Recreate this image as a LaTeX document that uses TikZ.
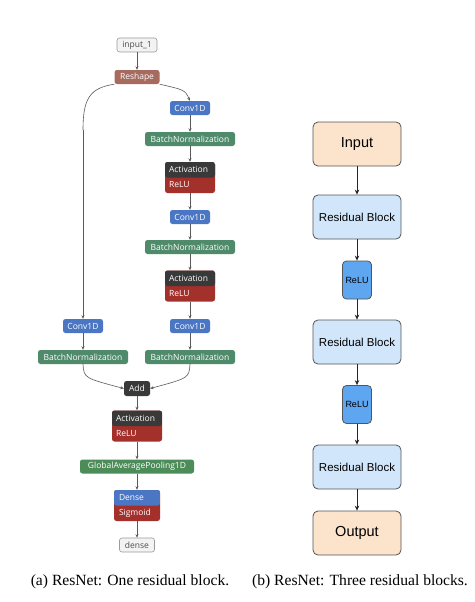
\documentclass[tikz,border=0pt]{standalone}
\usepackage{fontspec}
\setmainfont{Liberation Serif}
\newfontfamily\kfont{Open Sans}
\newfontfamily\dfont{Liberation Sans}
\usetikzlibrary{arrows.meta,calc}
\definecolor{inbg}{HTML}{F3F3F3}
\definecolor{indraw}{HTML}{9A9A9A}
\definecolor{reshc}{HTML}{A66A5F}
\definecolor{convc}{HTML}{4A76C4}
\definecolor{bnc}{HTML}{4F8A6B}
\definecolor{gapc}{HTML}{4B8C58}
\definecolor{darkc}{HTML}{393939}
\definecolor{reluc}{HTML}{A3302B}
\definecolor{kedgec}{HTML}{5A5A5A}
\definecolor{peach}{HTML}{FCE3CB}
\definecolor{lblue}{HTML}{D2E6FB}
\definecolor{mblue}{HTML}{5FA6F0}
\definecolor{rdraw}{HTML}{555555}
\begin{document}
\begin{tikzpicture}[x=1pt,y=-1pt,
  kbox/.style={rounded corners=2.5pt, minimum height=14pt, inner sep=0pt, text=white, font=\kfont\fontsize{8.5}{10}\selectfont},
  ktext/.style={inner sep=0pt, text=white, font=\kfont\fontsize{8.5}{10}\selectfont, anchor=west},
  inbox/.style={kbox, fill=inbg, draw=indraw, line width=0.6pt, text=black!70, minimum width=40pt},
  reshbox/.style={kbox, fill=reshc, minimum width=45pt},
  convbox/.style={kbox, fill=convc, minimum width=40pt},
  bnbox/.style={kbox, fill=bnc, minimum width=90pt},
  addbox/.style={kbox, fill=darkc, minimum width=26pt, minimum height=15pt},
  actbox/.style={kbox, fill=reluc, minimum width=50pt, minimum height=31pt,
     path picture={\fill[darkc] (path picture bounding box.north west) rectangle (path picture bounding box.east);}},
  densebox/.style={kbox, fill=reluc, minimum width=46pt, minimum height=31pt,
     path picture={\fill[convc] (path picture bounding box.north west) rectangle (path picture bounding box.east);}},
  kedge/.style={draw=kedgec, line width=0.6pt, -{Stealth[length=3.5pt,width=3pt]}},
  rbox/.style={draw=rdraw, line width=0.8pt, rounded corners=5pt, minimum width=88pt, minimum height=44pt, inner sep=0pt, font=\dfont\fontsize{11.5}{13}\selectfont},
  iobox/.style={rbox, fill=peach, font=\dfont\fontsize{14.5}{16}\selectfont},
  resbox/.style={rbox, fill=lblue},
  relubox/.style={draw=rdraw, line width=0.8pt, rounded corners=4pt, fill=mblue, minimum width=29pt, minimum height=38pt, inner sep=0pt, font=\dfont\fontsize{9}{10}\selectfont},
  redge/.style={draw=black!85, line width=0.8pt, -{Stealth[length=5pt,width=4.5pt]}},
  captext/.style={inner sep=0pt, font=\fontsize{15.6}{19}\selectfont}
]
\useasboundingbox[fill=white] (0,0) rectangle (474,602);

% ---------- (a) ----------
\node[inbox] (in1) at (137,45) {input\_1};
\node[reshbox] (resh) at (137,77) {Reshape};
\node[convbox] (c1) at (190,108) {Conv1D};
\node[bnbox] (b1) at (190,139) {BatchNormalization};
\node[actbox] (a1) at (190,177.5) {};
\node[ktext] (a1t) at ($(a1.west)+(4,-8)$) {Activation};
\node[ktext] (a1b) at ($(a1.west)+(4,7.5)$) {ReLU};
\node[convbox] (c2) at (190,217) {Conv1D};
\node[bnbox] (b2) at (190,247) {BatchNormalization};
\node[actbox] (a2) at (190,286) {};
\node[ktext] (a2t) at ($(a2.west)+(4,-8)$) {Activation};
\node[ktext] (a2b) at ($(a2.west)+(4,7.5)$) {ReLU};
\node[convbox] (c3) at (190,326) {Conv1D};
\node[bnbox] (b3) at (190,357) {BatchNormalization};
\node[convbox] (lc) at (83,326) {Conv1D};
\node[bnbox] (lb) at (83,357) {BatchNormalization};
\node[addbox] (add) at (137,388.5) {Add};
\node[actbox] (a3) at (137,426) {};
\node[ktext] (a3t) at ($(a3.west)+(4,-8)$) {Activation};
\node[ktext] (a3b) at ($(a3.west)+(4,7.5)$) {ReLU};
\node[bnbox, fill=gapc, minimum width=114pt] (gap) at (137,466.5) {GlobalAveragePooling1D};
\node[densebox] (dn) at (137,505.5) {};
\node[ktext] (dnt) at ($(dn.west)+(5,-8)$) {Dense};
\node[ktext] (dnb) at ($(dn.west)+(5,7.5)$) {Sigmoid};
\node[inbox, minimum width=35pt] (out1) at (137,545) {dense};

\coordinate (skip) at (83,130);
\draw[kedge] (in1) -- (resh);
\draw[kedge] (resh.south east) .. controls (185,90) .. (c1.north);
\draw[draw=kedgec, line width=0.6pt] (resh.south west) .. controls (90,88) and (83,98) .. (skip);
\draw[kedge] (skip) -- (lc.north);
\draw[kedge] (c1) -- (b1);
\draw[kedge] (b1) -- (a1);
\draw[kedge] (a1) -- (c2);
\draw[kedge] (c2) -- (b2);
\draw[kedge] (b2) -- (a2);
\draw[kedge] (a2) -- (c3);
\draw[kedge] (c3) -- (b3);
\draw[kedge] (lc) -- (lb);
\draw[kedge] (lb.south) .. controls (84,378) .. (add.west);
\draw[kedge] (b3.south) .. controls (189,378) .. (add.east);
\draw[kedge] (add) -- (a3);
\draw[kedge] (a3) -- (gap);
\draw[kedge] (gap) -- (dn);
\draw[kedge] (dn) -- (out1);

% ---------- (b) ----------
\node[iobox] (rin) at (357,144) {Input};
\node[resbox] (r1) at (357,217) {Residual Block};
\node[relubox] (u1) at (357,280) {ReLU};
\node[resbox] (r2) at (357,342) {Residual Block};
\node[relubox] (u2) at (357,404.5) {ReLU};
\node[resbox] (r3) at (357,467) {Residual Block};
\node[iobox] (rout) at (357,533) {Output};
\draw[redge] (rin) -- (r1);
\draw[redge] (r1) -- (u1);
\draw[redge] (u1) -- (r2);
\draw[redge] (r2) -- (u2);
\draw[redge] (u2) -- (r3);
\draw[redge] (r3) -- (rout);

% ---------- captions ----------
\node[captext] (capa) at (130,582) {(a) ResNet: One residual block.};
\node[captext] (capb) at (360,582) {(b) ResNet: Three residual blocks.};
\end{tikzpicture}
\end{document}
